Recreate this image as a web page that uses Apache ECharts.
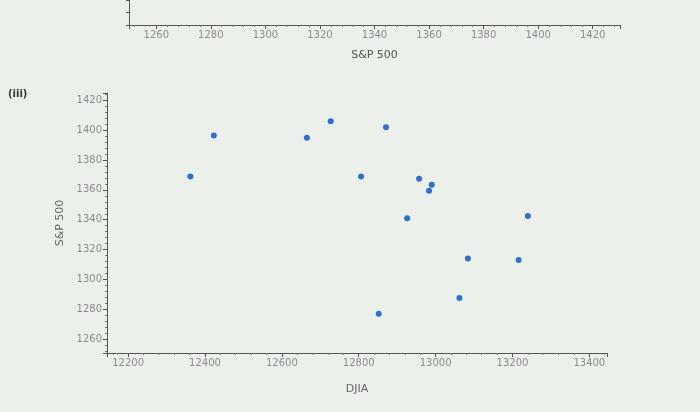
<!DOCTYPE html>
<html>
<head>
<meta charset="utf-8">
<script src="https://cdn.jsdelivr.net/npm/echarts@6/dist/echarts.min.js"></script>
<style>
html,body{margin:0;padding:0;background:#ebf0ea;}
#chart{width:700px;height:412px;}
</style>
</head>
<body>
<div id="chart"></div>
<script>
// DJIA (x) and S&P 500 (y) values
const djia  = [12362, 12423, 12665, 12727, 12806, 12871, 12957, 12990, 12983, 12926, 13240, 13084, 13216, 13062, 12852];
const sp500 = [1369, 1396.5, 1395, 1406, 1369, 1402, 1367.5, 1363.5, 1359.5, 1341, 1342.5, 1314, 1313, 1287.5, 1277];

// tick labels
const djiaTicks = [12200, 12400, 12600, 12800, 13000, 13200, 13400];
const spTicks = [1260, 1280, 1300, 1320, 1340, 1360, 1380, 1400, 1420];
const topTicks = [1260, 1280, 1300, 1320, 1340, 1360, 1380, 1400, 1420];

const points = djia.map((d, i) => [d, sp500[i]]);

const labelFont = {fontFamily: 'DejaVu Sans', fontSize: 10, color: '#8c8c8c'};
const axisLineStyle = {lineStyle: {color: '#555', width: 1}};
function fmt(list) { return v => (list.indexOf(v) >= 0 ? String(v) : ''); }

const chart = echarts.init(document.getElementById('chart'), null, {renderer: 'canvas'});
chart.setOption({
  animation: false,
  backgroundColor: '#ebf0ea',
  graphic: [{
    type: 'text', left: 8, top: 89,
    style: {text: '(iii)', font: 'bold 10px DejaVu Sans', fill: '#333'}
  }],
  grid: [
    {left: 107, right: 93, top: 93, bottom: 59, containLabel: false},
    {left: 129, right: 80, top: -1, bottom: 387, containLabel: false}
  ],
  xAxis: [
    {
      gridIndex: 0, type: 'value', min: 12145, max: 13446, splitNumber: 6,
      name: 'DJIA', nameLocation: 'middle', nameGap: 31,
      nameTextStyle: {fontFamily: 'DejaVu Sans', fontSize: 11, color: '#666'},
      axisLine: axisLineStyle,
      axisTick: {show: true, length: 4, lineStyle: {color: '#555'}},
      minorTick: {show: true, splitNumber: 5, length: 2, lineStyle: {color: '#777'}},
      splitLine: {show: false},
      axisLabel: Object.assign({margin: 5, showMinLabel: false, showMaxLabel: false, formatter: fmt(djiaTicks)}, labelFont)
    },
    {
      gridIndex: 1, type: 'value', min: 1250, max: 1430, splitNumber: 9,
      name: 'S&P 500', nameLocation: 'middle', nameGap: 25,
      nameTextStyle: {fontFamily: 'DejaVu Sans', fontSize: 11, color: '#555'},
      axisLine: axisLineStyle,
      axisTick: {show: true, length: 4, lineStyle: {color: '#555'}},
      minorTick: {show: true, splitNumber: 5, length: 2, lineStyle: {color: '#777'}},
      splitLine: {show: false},
      axisLabel: Object.assign({margin: 5, showMinLabel: false, showMaxLabel: false, formatter: fmt(topTicks)}, labelFont)
    }
  ],
  yAxis: [
    {
      gridIndex: 0, type: 'value', min: 1250.6, max: 1425, splitNumber: 8,
      name: 'S&P 500', nameLocation: 'middle', nameGap: 40,
      nameTextStyle: {fontFamily: 'DejaVu Sans', fontSize: 11, color: '#666'},
      axisLine: axisLineStyle,
      axisTick: {show: true, length: 4, lineStyle: {color: '#555'}},
      minorTick: {show: true, splitNumber: 5, length: 2, lineStyle: {color: '#777'}},
      splitLine: {show: false},
      axisLabel: Object.assign({margin: 5, showMinLabel: false, showMaxLabel: false, formatter: fmt(spTicks)}, labelFont)
    },
    {
      gridIndex: 1, type: 'value', min: 0, max: 2, interval: 1,
      axisLine: axisLineStyle,
      axisTick: {show: true, length: 3, lineStyle: {color: '#555'}},
      splitLine: {show: false},
      axisLabel: {show: false}
    }
  ],
  series: [{
    type: 'scatter',
    xAxisIndex: 0, yAxisIndex: 0,
    data: points,
    symbolSize: 6,
    itemStyle: {color: '#2d6fd2', opacity: 1}
  }]
});
</script>
</body>
</html>
